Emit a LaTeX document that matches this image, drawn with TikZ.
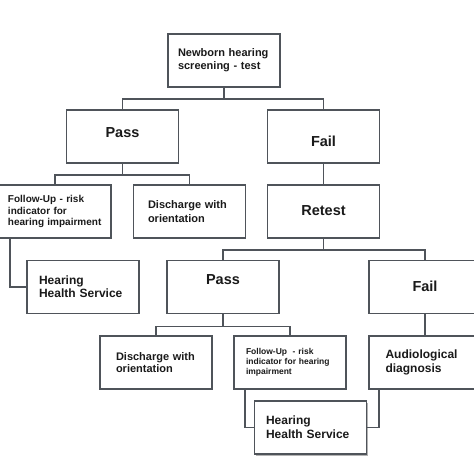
\documentclass[tikz,border=0pt]{standalone}
\usepackage{fontspec}
\setmainfont{Liberation Sans}
\usetikzlibrary{shadows}
\definecolor{boxgray}{HTML}{4F545A}
\definecolor{inkblack}{HTML}{1A1A1A}
\newcommand{\fsz}[2]{\fontsize{#1}{#2}\selectfont}
\newcommand{\liftby}[2]{\raisebox{#1}[\height][\depth]{#2}}
\begin{document}
\begin{tikzpicture}[x=1pt, y=-1pt,
	box/.style={draw=boxgray, line width=1.6pt, fill=white, minimum width=112pt, minimum height=53pt, inner sep=0pt, text=inkblack},
	big/.style={box, font=\bfseries\fsz{14.5}{17}},
	txt/.style={box, align=left, text width=#1},
	link/.style={draw=boxgray, line width=1.5pt}]
		\clip (0,0) rectangle (474,474);
		\useasboundingbox (0,0) rectangle (474,474);
		
		%first screening
		\node[txt=92pt, font=\bfseries\fsz{11}{13.3}] (screen) at (224,60.5) {Newborn hearing\\screening - test};
		\node[big] (passA) at (122.5,136.5) {\liftby{3.5pt}{Pass}};
		\node[big] (failA) at (323.5,136.5) {\liftby{-4.5pt}{Fail}};
		
		%after pass
		\node[txt=94pt, font=\bfseries\fsz{10}{11.5}] (followA) at (55,211.5) {Follow-Up - risk\\indicator for\\hearing impairment};
		\node[txt=83pt, font=\bfseries\fsz{11}{13.3}] (dischargeA) at (189.5,211.5) {Discharge with\\orientation};
		\node[txt=88pt, font=\bfseries\fsz{12}{13.4}] (hearingA) at (83,287) {Hearing\\Health Service};
		
		%retest
		\node[big] (retest) at (323.5,211.5) {\liftby{1pt}{Retest}};
		\node[big] (passB) at (223,287) {\liftby{7pt}{Pass}};
		\node[big] (failB) at (425,287) {\liftby{1pt}{Fail}};
		\node[txt=80pt, font=\bfseries\fsz{11}{12.6}] (dischargeB) at (156,362.5) {Discharge with\\orientation};
		\node[txt=88pt, font=\bfseries\fsz{8.5}{10.2}] (followB) at (290,362.5) {Follow-Up \ - risk\\indicator for hearing\\impairment};
		\node[txt=79pt, font=\bfseries\fsz{12}{14}] (audio) at (425,362.5) {Audiological\\diagnosis};
		\node[txt=89pt, font=\bfseries\fsz{12}{13.7}, drop shadow={shadow xshift=1.5pt, shadow yshift=-1.5pt, opacity=0.6}] (hearingB) at (310.5,427.5) {Hearing\\Health Service};
		
		%links
		\draw[link] (screen.south) -- ++(0,11) -| (passA.north);
		\draw[link] (screen.south) -- ++(0,11) -| (failA.north);
		\draw[link] (passA.south) -- ++(0,11) -| (followA.north);
		\draw[link] (passA.south) -- ++(0,11) -| (dischargeA.north);
		\draw[link] (failA) -- (retest);
		\draw[link] ([xshift=12pt]followA.south west) |- (hearingA);
		\draw[link] (retest.south) -- ++(0,11) -| (passB.north);
		\draw[link] (retest.south) -- ++(0,11) -| (failB.north);
		\draw[link] (passB.south) -- ++(0,12) -| (dischargeB.north);
		\draw[link] (passB.south) -- ++(0,12) -| (followB.north);
		\draw[link] (failB) -- (audio);
		\draw[link] ([xshift=12pt]followB.south west) |- (hearingB);
		\draw[link] ([xshift=11pt]audio.south west) |- (hearingB);
\end{tikzpicture}
\end{document}
